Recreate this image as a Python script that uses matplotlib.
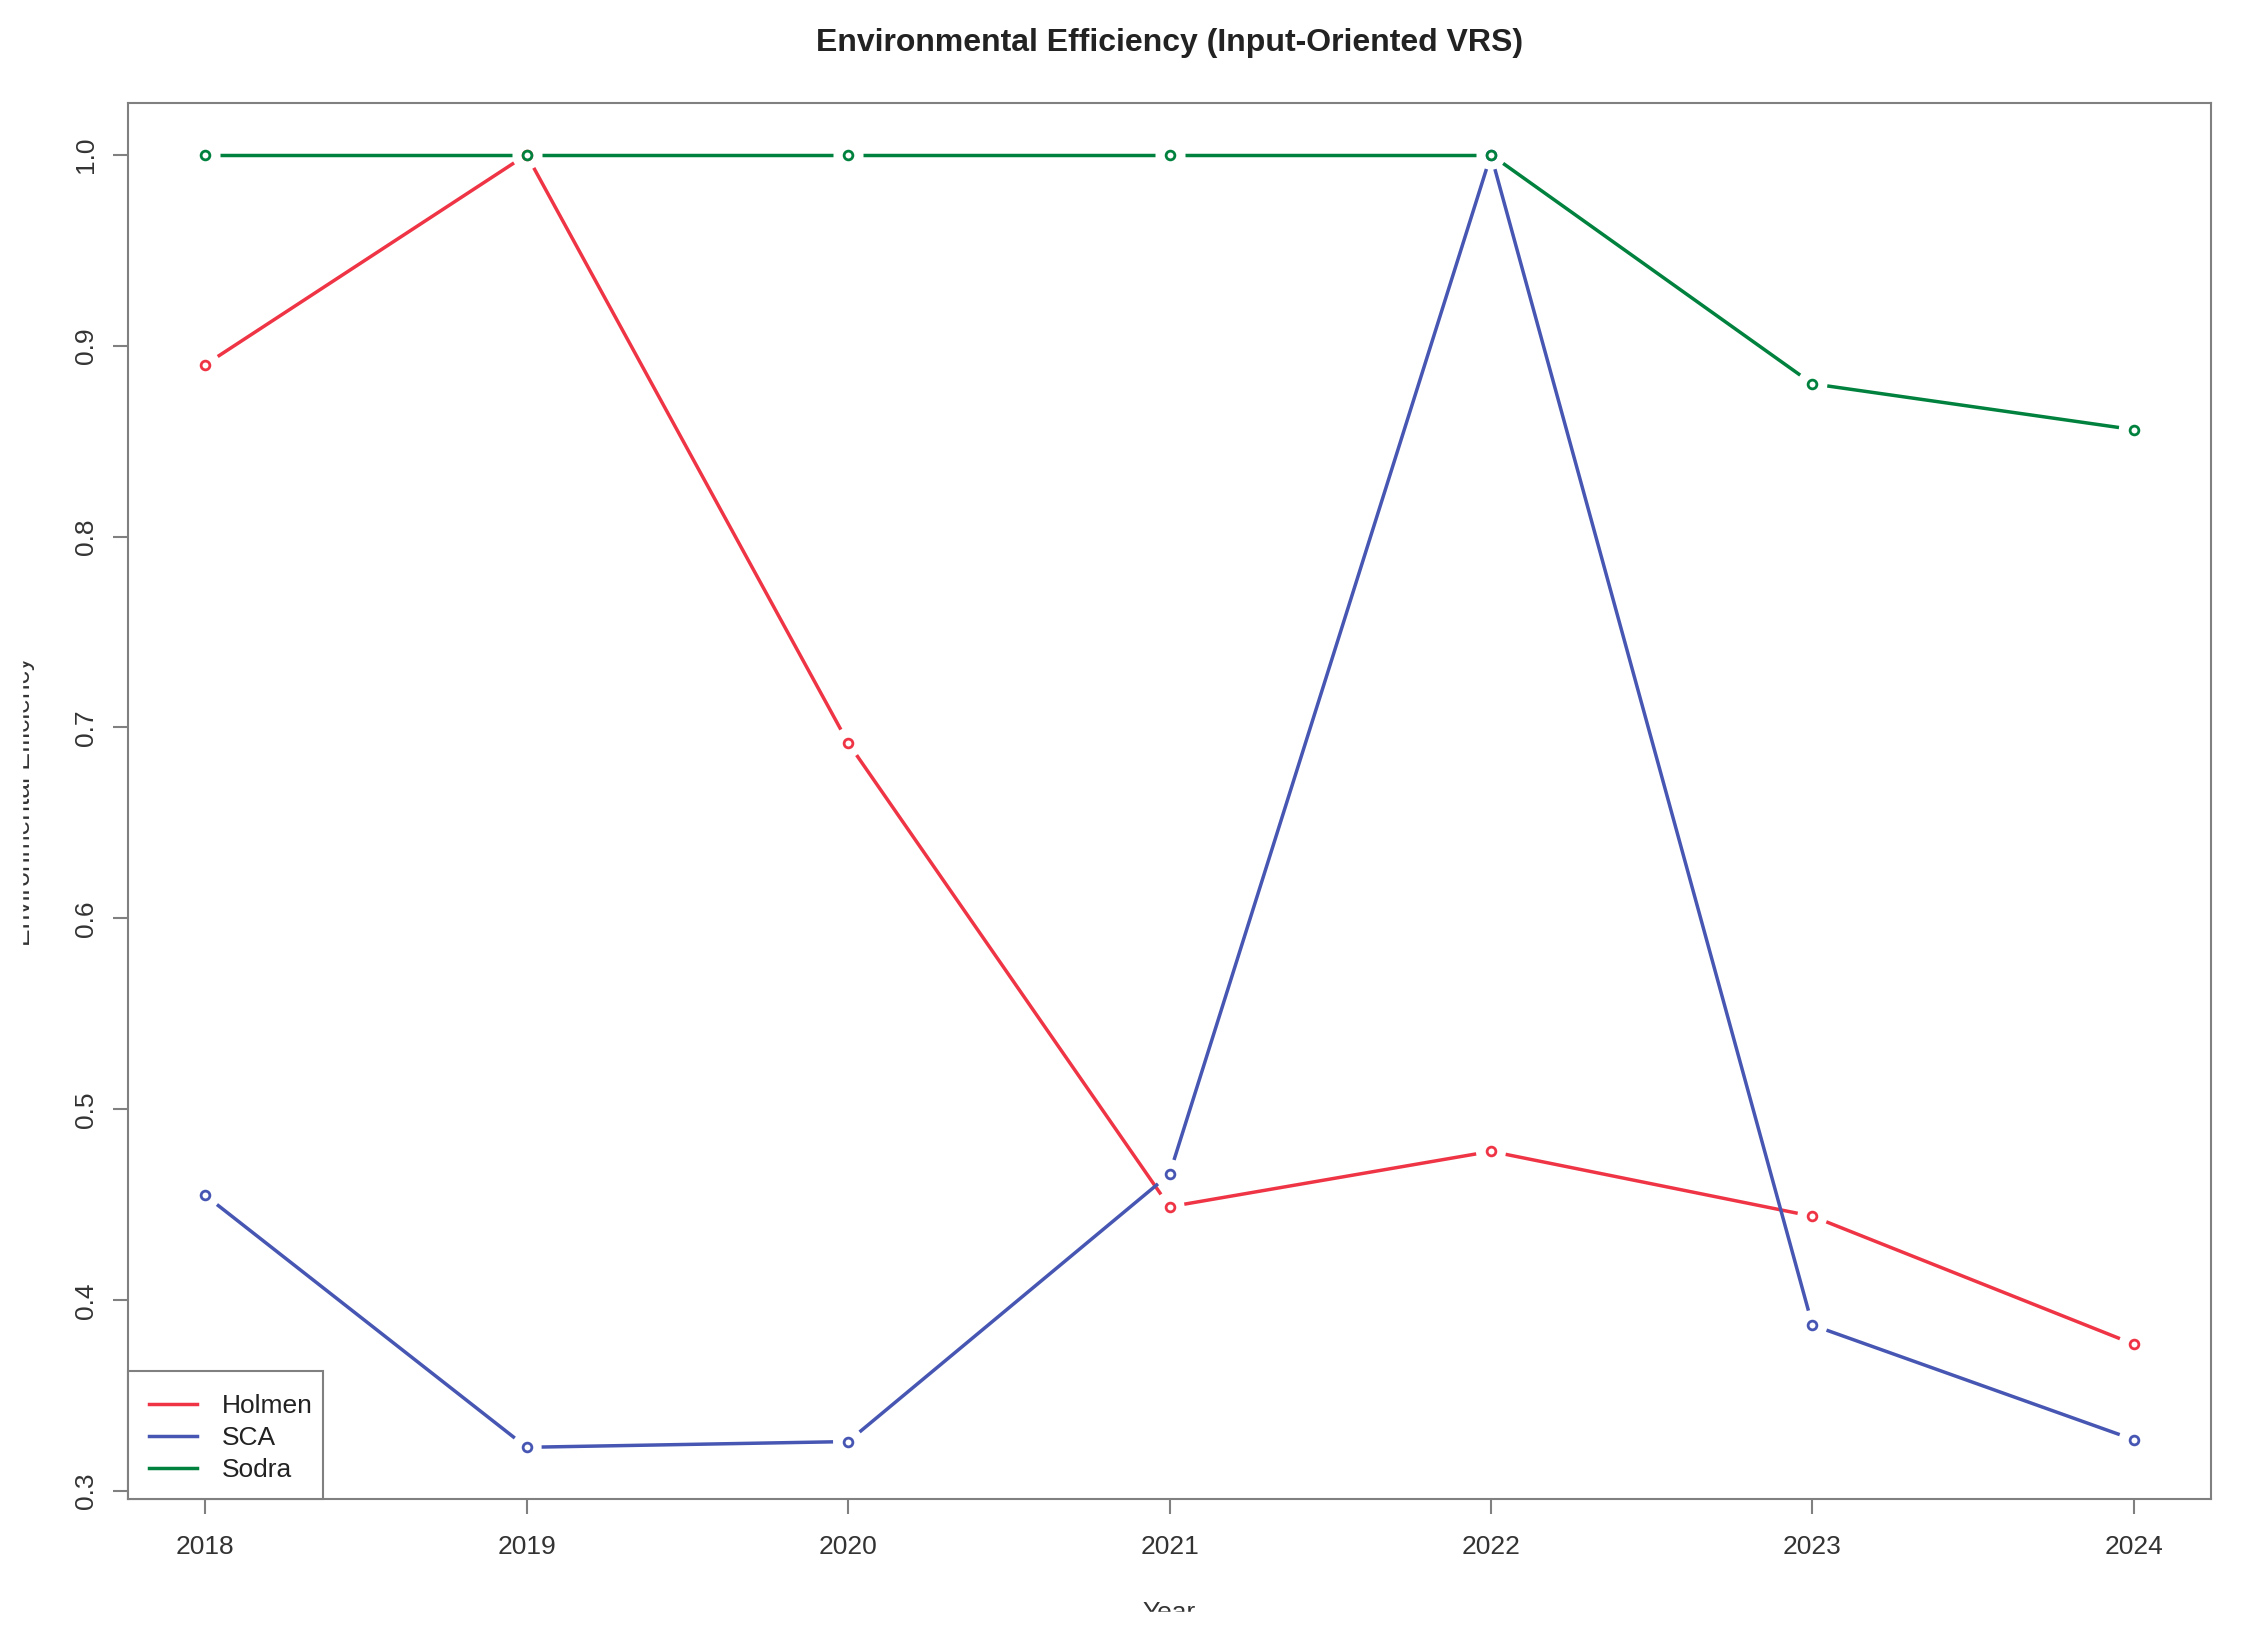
import matplotlib
matplotlib.use("Agg")
import matplotlib.pyplot as plt
from matplotlib.lines import Line2D
from matplotlib.patches import Rectangle
import numpy as np

years = [2018, 2019, 2020, 2021, 2022, 2023, 2024]
holmen = [0.890, 1.000, 0.692, 0.449, 0.478, 0.444, 0.377]
sca = [0.455, 0.323, 0.326, 0.466, 1.000, 0.387, 0.327]
sodra = [1.000, 1.000, 1.000, 1.000, 1.000, 0.880, 0.856]

series_names = ["Holmen", "SCA", "Sodra"]
series_vals = [holmen, sca, sodra]
colors = ["#EF3545", "#4656B2", "#00813D"]

W, H = 2251, 1651
plt.rcParams["font.family"] = ["Liberation Sans", "DejaVu Sans"]

fig = plt.figure(figsize=(W / 100, H / 100), dpi=100)
ax = fig.add_axes([128 / W, 1 - 1499 / H, (2211 - 128) / W, (1499 - 103) / H])

# R style 4% axis expansion
allv = np.concatenate([np.array(v) for v in series_vals])
ylo, yhi = allv.min(), allv.max()
ax.set_xlim(years[0] - 0.04 * (years[-1] - years[0]), years[-1] + 0.04 * (years[-1] - years[0]))
ax.set_ylim(ylo - 0.04 * (yhi - ylo), yhi + 0.04 * (yhi - ylo))

lw = 2.5
gap = 15  # px gap around points, like type="b"


def gapped(xs, ys, color, z):
    pts = ax.transData.transform(np.column_stack([xs, ys]))
    inv = ax.transData.inverted()
    for i in range(len(pts) - 1):
        p0, p1 = pts[i], pts[i + 1]
        d = p1 - p0
        L = np.hypot(*d)
        if L <= 2 * gap:
            continue
        u = d / L
        seg = inv.transform([p0 + u * gap, p1 - u * gap])
        ax.plot(seg[:, 0], seg[:, 1], color=color, lw=lw, zorder=z, solid_capstyle="butt")


for k, (name, vals, c) in enumerate(zip(series_names, series_vals, colors)):
    gapped(years, vals, c, 2 + k)
    ax.plot(years, vals, ls="none", marker="o", ms=6.3, mfc="white", mec=c, mew=2.0, zorder=2 + k)

ax.set_xticks(years)
ax.set_yticks([0.3, 0.4, 0.5, 0.6, 0.7, 0.8, 0.9, 1.0])
ax.set_yticklabels(["0.3", "0.4", "0.5", "0.6", "0.7", "0.8", "0.9", "1.0"], rotation=90, va="center")

spine_c = "#808080"
for s in ax.spines.values():
    s.set_color(spine_c)
    s.set_linewidth(1.5)
ax.tick_params(axis="both", length=10.5, width=1.5, color=spine_c, labelsize=19, labelcolor="#333333")
ax.tick_params(axis="x", pad=15.5)
ax.tick_params(axis="y", pad=11)

# legend box drawn by hand (R's box is tighter on the right than matplotlib's)
ax.add_patch(Rectangle((0, 0), (323 - 128) / (2211 - 128), (1499 - 1371) / (1499 - 103),
                       transform=ax.transAxes, facecolor="white", edgecolor=spine_c,
                       lw=1.5, zorder=4.9, clip_on=False))
handles = [Line2D([], [], color=c, lw=lw) for c in colors]
leg = ax.legend(handles, series_names, loc="lower left", borderaxespad=0, fontsize=19,
                handlelength=1.8, handletextpad=0.97, labelspacing=0.3, borderpad=0.65,
                frameon=False, bbox_to_anchor=(0.0019, 0))
for t in leg.get_texts():
    t.set_color("#222222")

fig.text(1169.5 / W, 1 - 43 / H, "Environmental Efficiency (Input-Oriented VRS)",
         ha="center", va="center", fontsize=23, fontweight="bold",
         family=["Liberation Sans Narrow", "Liberation Sans"], color="#222222")

fig.text(35 / W, 1 - 801 / H, "Environmental Efficiency", rotation=90,
         ha="right", va="center", fontsize=19, color="#333333")
fig.text(1169.5 / W, 1 - 1620 / H, "Year", ha="center", va="baseline", fontsize=19, color="#333333")

# the original picture was cropped at its left and bottom edges
fig.patches.append(Rectangle((0, 0), 22 / W, 1, transform=fig.transFigure, color="white", zorder=10))
fig.patches.append(Rectangle((0, 0), 1, (H - 1612) / H, transform=fig.transFigure, color="white", zorder=10))

fig.savefig("out.png", dpi=100, facecolor="white")
